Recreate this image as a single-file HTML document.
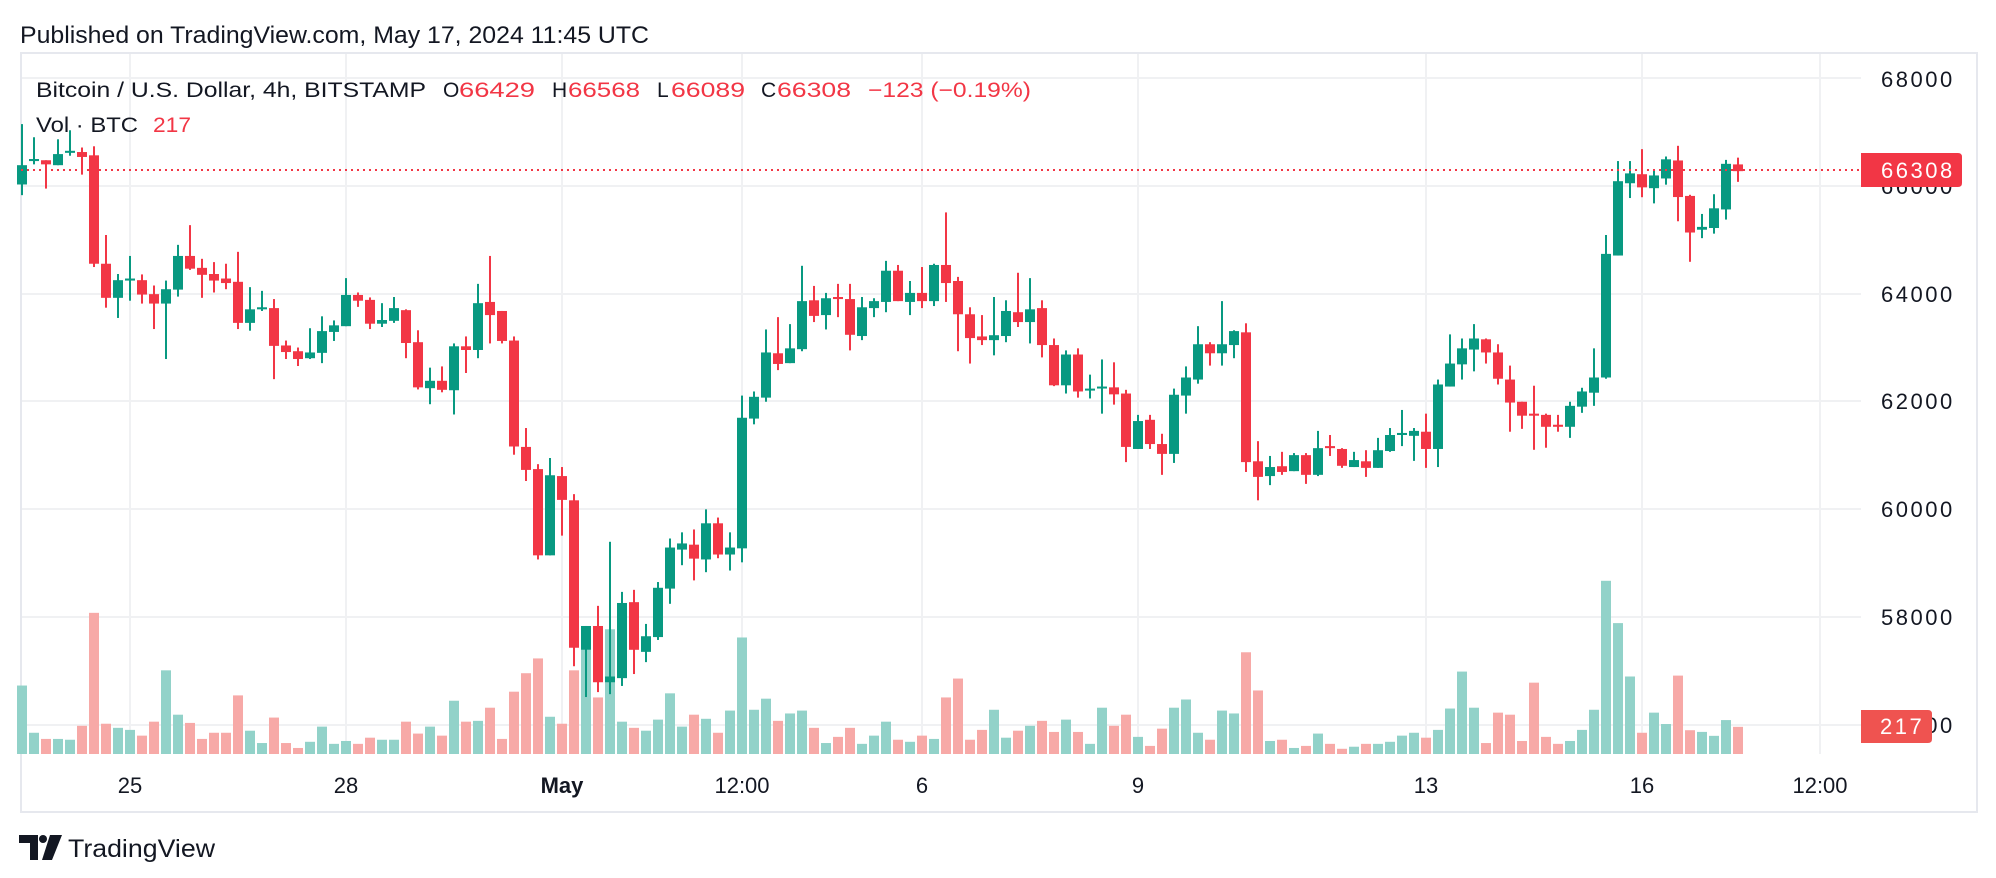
<!DOCTYPE html>
<html><head><meta charset="utf-8"><style>
html,body{margin:0;padding:0;background:#fff;}
svg{display:block;}
text{font-family:"Liberation Sans",Arial,sans-serif;}
</style></head><body>
<svg id="s" width="1996" height="878" viewBox="0 0 1996 878" xmlns="http://www.w3.org/2000/svg">
<rect width="1996" height="878" fill="#fff"/>
<text x="20" y="43" font-size="24" fill="#131722" textLength="629" lengthAdjust="spacingAndGlyphs">Published on TradingView.com, May 17, 2024 11:45 UTC</text>
<g id="grid" stroke="#f0f1f3" stroke-width="2"></g>
<rect x="21" y="53" width="1956" height="759" fill="none" stroke="#e6e8ee" stroke-width="2"/>
<g id="vol"></g>
<g id="candles"></g>
<line x1="21" y1="170" x2="1861" y2="170" stroke="#f23645" stroke-width="2" stroke-dasharray="2,4"/>
<g font-size="21">
<text x="36" y="97" fill="#131722" textLength="390" lengthAdjust="spacingAndGlyphs">Bitcoin / U.S. Dollar, 4h, BITSTAMP</text>
<text x="443" y="97" fill="#131722">O</text><text x="459" y="97" fill="#f23645" textLength="76" lengthAdjust="spacingAndGlyphs">66429</text>
<text x="552" y="97" fill="#131722">H</text><text x="568" y="97" fill="#f23645" textLength="72" lengthAdjust="spacingAndGlyphs">66568</text>
<text x="657" y="97" fill="#131722">L</text><text x="671" y="97" fill="#f23645" textLength="74" lengthAdjust="spacingAndGlyphs">66089</text>
<text x="761" y="97" fill="#131722">C</text><text x="777" y="97" fill="#f23645" textLength="74" lengthAdjust="spacingAndGlyphs">66308</text>
<text x="868" y="97" fill="#f23645" textLength="163" lengthAdjust="spacingAndGlyphs">−123 (−0.19%)</text>
<text x="36" y="132" fill="#131722" textLength="102" lengthAdjust="spacingAndGlyphs">Vol · BTC</text>
<text x="153" y="132" fill="#f23645" textLength="38" lengthAdjust="spacingAndGlyphs">217</text>
</g>
<g font-size="22" fill="#131722" letter-spacing="2.5">
<text x="1881" y="87">68000</text>
<text x="1881" y="194">66000</text>
<text x="1881" y="302">64000</text>
<text x="1881" y="409">62000</text>
<text x="1881" y="517">60000</text>
<text x="1881" y="625">58000</text>
<text x="1881" y="733">56000</text>
</g>
<path d="M1861 153 H1958 Q1962 153 1962 157 V183 Q1962 187 1958 187 H1861 Z" fill="#f23645"/>
<text x="1881" y="178" font-size="22" fill="#fff" letter-spacing="2.5">66308</text>
<path d="M1861 710 H1928 Q1932 710 1932 714 V739 Q1932 743 1928 743 H1861 Z" fill="#ef5350"/>
<text x="1880" y="734" font-size="22" fill="#fff" letter-spacing="2.5">217</text>
<g font-size="22" fill="#131722" text-anchor="middle">
<text x="130" y="793">25</text>
<text x="346" y="793">28</text>
<text x="562" y="793" font-weight="bold">May</text>
<text x="742" y="793">12:00</text>
<text x="922" y="793">6</text>
<text x="1138" y="793">9</text>
<text x="1426" y="793">13</text>
<text x="1642" y="793">16</text>
<text x="1820" y="793">12:00</text>
</g>
<g fill="#131722">
<path d="M19 835 H38 V860 H30 V843 H19 Z"/>
<circle cx="43" cy="839" r="4"/>
<path d="M50 835 H62 L52 860 H42 Z"/>
</g>
<text x="68" y="857" font-size="25" fill="#131722" textLength="147" lengthAdjust="spacingAndGlyphs">TradingView</text>
</svg>
<script>
(function(){
var NS="http://www.w3.org/2000/svg";
function el(p,t,a){var e=document.createElementNS(NS,t);for(var k in a)e.setAttribute(k,a[k]);p.appendChild(e);return e;}
var grid=document.getElementById('grid');
[78,186,294,401,509,617,725].forEach(function(y){el(grid,'line',{x1:21,y1:y,x2:1861,y2:y});});
[130,346,562,742,922,1138,1426,1642,1820].forEach(function(x){el(grid,'line',{x1:x,y1:53,x2:x,y2:754});});
// [hi, lo, bodyTop, bodyBot, green?, volTop] in zoom units (y_orig = 120 + y*0.4107)
var D=[
[10,183,110,157,1,1377],[42,108,95,100,1,1492],[98,167,98,108,0,1507],[47,110,83,110,1,1507],[25,87,75,80,1,1509],
[67,133,78,90,0,1475],[64,358,86,350,0,1200],[280,457,350,433,0,1470],[375,482,390,433,1,1480],[331,440,386,391,1,1485],
[376,447,390,425,0,1499],[403,509,424,447,0,1465],[391,582,412,447,1,1340],[304,430,331,413,1,1448],[256,365,331,362,0,1468],
[338,433,360,377,0,1507],[346,420,375,391,0,1492],[350,412,386,397,0,1492],[321,509,394,494,0,1401],[407,513,461,494,1,1487],
[416,465,456,461,1,1517],[436,631,458,550,0,1455],[537,582,549,565,0,1517],[554,599,563,582,0,1529],[507,582,566,580,1,1514],
[478,592,514,567,1,1477],[488,538,500,516,1,1519],[385,502,426,502,1,1512],[420,455,426,440,0,1519],[432,509,438,496,0,1504],
[446,504,487,496,1,1509],[431,494,458,489,1,1509],[461,580,463,543,0,1465],[512,656,541,651,0,1494],
[603,692,635,653,1,1477],[600,663,635,657,0,1499],[544,717,551,658,1,1414],[527,616,551,560,0,1465],[399,580,446,560,1,1463],
[331,544,443,475,0,1431],[465,544,465,538,0,1507],[527,815,537,795,0,1392],[750,879,796,852,0,1347],[838,1070,850,1060,0,1311],
[823,1060,865,1060,1,1453],[845,1012,867,925,0,1470],[911,1330,926,1285,0,1340],[1232,1405,1232,1290,1,1290],[1183,1393,1232,1369,0,1406],
[1027,1398,1355,1369,1,1240],[1149,1378,1176,1359,1,1465],[1144,1349,1174,1290,0,1480],[1227,1320,1257,1295,1,1487],[1125,1266,1139,1259,1,1460],
[1019,1178,1041,1141,1,1396],[1004,1084,1031,1046,1,1477],[997,1121,1034,1068,0,1448],[948,1101,982,1070,1,1458],[968,1067,982,1058,0,1492],
[1004,1097,1041,1058,1,1438],[671,1077,725,1043,1,1260],[661,741,674,727,1,1436],[510,686,566,676,1,1409],[480,609,568,594,0,1463],
[497,592,556,592,1,1445],[355,563,441,558,1,1438],[404,492,439,477,0,1480],[421,510,434,475,1,1517],[399,480,431,436,0,1502],
[399,561,436,523,0,1480],[431,536,456,526,1,1519],[434,480,441,458,1,1499],[343,468,367,443,1,1465],[353,441,367,441,0,1509],
[392,475,421,443,1,1514],[358,458,421,441,0,1499],[350,453,353,441,1,1507],[225,443,353,397,0,1406],[382,563,392,473,0,1360],
[456,593,473,531,0,1509],[475,548,527,536,0,1485],[431,573,524,536,1,1436],[439,541,465,526,1,1504],[372,504,468,492,0,1487],
[385,544,461,492,1,1475],[439,578,458,548,0,1463],[532,648,548,646,0,1490],[561,666,571,646,1,1460],[556,676,571,661,0,1490],
[620,678,654,658,1,1519],[583,715,649,653,1,1431],[590,693,651,668,0,1475],[657,833,666,796,0,1448],[718,801,733,801,1,1502],
[718,801,730,789,0,1524],[764,864,789,813,0,1482],[654,835,669,813,1,1431],[600,715,627,671,1,1411],[502,642,546,632,1,1492],
[541,598,546,568,0,1509],[441,598,546,568,1,1438],[512,580,514,548,1,1445],[495,857,517,833,0,1296],
[782,926,831,869,0,1389],[818,889,845,867,1,1512],[808,864,843,857,0,1509],[811,855,816,855,1,1529],[811,886,816,864,0,1524],
[757,867,799,864,1,1494],[767,818,794,799,0,1519],[799,847,801,842,0,1531],[808,845,828,845,1,1526],[804,869,831,847,0,1519],
[774,847,804,847,1,1519],[750,808,767,806,1,1514],[706,794,762,767,1,1499],[750,830,757,769,1,1492],[715,847,759,801,0,1504],
[632,845,644,801,1,1485],[522,649,593,649,1,1433],[532,632,556,595,1,1343],[497,612,532,559,1,1431],[532,593,534,566,0,1517],
[546,644,566,630,0,1443],[598,759,632,688,0,1448],[686,752,686,720,0,1512],[647,803,715,720,0,1370],[715,798,718,747,0,1502],
[718,759,742,747,0,1519],[686,774,696,747,1,1512],[652,713,661,698,1,1485],[556,696,627,664,1,1436],[280,630,326,627,1,1122],
[100,330,149,330,1,1225],[100,190,130,154,1,1355],[71,188,132,164,0,1492],[122,203,135,166,1,1443]
];
// zoom2 units (y_orig = y*0.563)
var D2=[
[278,328,283,317,1,1286],[259,393,285,350,0,1200],[346,465,348,413,0,1297],[380,423,403,408,1,1300],
[345,415,370,405,1,1307],[284,390,291,372,1,1279],[280,323,292,304,0,1291]
];
function Y1(v){return 120+v*0.4107;}
function Y2(v){return v*0.563;}
var C=[];
D.forEach(function(d){C.push(d.slice(0,5).map(function(v,i){return i<4?Y1(v):v;}).concat([Y1(d[5])]));});
D2.forEach(function(d){C.push(d.slice(0,5).map(function(v,i){return i<4?Y2(v):v;}).concat([Y2(d[5])]));});
var gv=document.getElementById('vol'),gc=document.getElementById('candles');
C.forEach(function(c,k){
  var x=22+12*k, col=c[4]?'#089981':'#f23645', vcol=c[4]?'#92d2c9':'#f7a9a7';
  var vt=Math.min(c[5],752);
  el(gv,'rect',{x:x-5,y:vt,width:10,height:754-vt,fill:vcol});
  el(gc,'rect',{x:x-1,y:c[0],width:2,height:Math.max(1,c[1]-c[0]),fill:col});
  var bh=Math.max(2,c[3]-c[2]);
  el(gc,'rect',{x:x-5,y:c[2],width:10,height:bh,fill:col});
});
})();
</script>
</body></html>
